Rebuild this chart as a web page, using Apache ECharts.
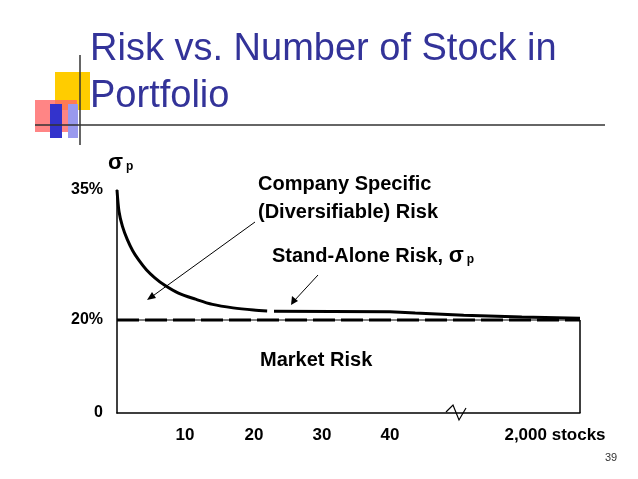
<!DOCTYPE html><html><head><meta charset="utf-8">
<script src="https://cdn.jsdelivr.net/npm/echarts@6/dist/echarts.min.js"></script>
<style>html,body{margin:0;background:#fff}#c{width:638px;height:479px}</style></head><body><div id="c"></div>
<script>
// data
const stocksA = [0, 0.3, 0.8, 1.5, 2.3, 3.2, 4.3, 5.5, 7, 9, 11.5, 14, 17, 20, 22];
const riskA   = [35, 32.5, 30.8, 29.3, 28.0, 26.9, 25.8, 24.9, 24.0, 23.1, 22.4, 21.8, 21.4, 21.15, 21.05];
const stocksB = [23, 40, 300, 800, 1400, 2000];
const riskB   = [21.0, 20.95, 20.8, 20.55, 20.35, 20.2];
const marketRisk = 20;
const xTicks = [[10,'10'],[20,'20'],[30,'30'],[40,'40']];
const yTicks = [[0,'0'],[20,'20%'],[35,'35%']];

// schematic (broken) scales
const fx = s => s <= 40 ? s * 273 / 40 : 273 + (s - 40) / 1960 * 190;
const fy = v => v <= 20 ? v * 93 / 20 : 93 + (v - 20) * 130 / 15;
const xLab = {}; xTicks.forEach(([s,l]) => xLab[Math.round(fx(s))] = l); xLab[438] = '2,000 stocks';
const yLab = {}; yTicks.forEach(([v,l]) => yLab[Math.round(fy(v))] = l);

const font = 'Liberation Sans, Arial, sans-serif';
const chart = echarts.init(document.getElementById('c'));
chart.setOption({
  animation:false,
  grid:{left:117, top:190, right:58, bottom:66},
  xAxis:{type:'value', min:0, max:463, interval:1,
    axisLine:{lineStyle:{color:'#000', width:1.5}}, axisTick:{show:false}, splitLine:{show:false},
    axisLabel:{hideOverlap:false, color:'#000', fontFamily:font, fontWeight:'bold', fontSize:17, margin:14,
      formatter:v=>xLab[v]||''}},
  yAxis:{type:'value', min:0, max:223, interval:1,
    axisLine:{show:true, lineStyle:{color:'#000', width:1.5}}, axisTick:{show:false}, splitLine:{show:false},
    axisLabel:{hideOverlap:false, color:'#000', fontFamily:font, fontWeight:'bold', fontSize:16, margin:14,
      formatter:v=>yLab[v]||''}},
  series:[
    {type:'line', data:stocksA.map((s,i)=>[fx(s), fy(riskA[i])]), smooth:0.3, symbol:'none', lineStyle:{color:'#000', width:3}},
    {type:'line', data:stocksB.map((s,i)=>[fx(s), fy(riskB[i])]), smooth:false, symbol:'none', lineStyle:{color:'#000', width:3}},
    {type:'line', data:[[0,fy(marketRisk)],[463,fy(marketRisk)]], symbol:'none', lineStyle:{color:'#000', width:1}},
    {type:'line', data:[[0,fy(marketRisk)],[463,fy(marketRisk)]], symbol:'none', lineStyle:{color:'#000', width:3, type:[22,6]}},
    {type:'line', data:[[463,0],[463,fy(marketRisk)]], symbol:'none', lineStyle:{color:'#000', width:1.5}}
  ],
  graphic:[
    {type:'rect', shape:{x:55,y:72,width:35,height:38}, style:{fill:'#ffcc00'}},
    {type:'rect', shape:{x:35,y:100,width:42,height:32}, style:{fill:'#ff6666', opacity:0.8}},
    {type:'rect', shape:{x:50,y:104,width:12,height:34}, style:{fill:'#3333cc'}},
    {type:'rect', shape:{x:68,y:104,width:10,height:34}, style:{fill:'#9999ee'}},
    {type:'line', shape:{x1:80,y1:55,x2:80,y2:145}, style:{stroke:'#333', lineWidth:1.5}},
    {type:'line', shape:{x1:35,y1:125,x2:605,y2:125}, style:{stroke:'#333', lineWidth:1.5}},
    {type:'text', left:90, top:26, style:{text:'Risk vs. Number of Stock in\nPortfolio', fill:'#333399', font:'38px '+font, lineHeight:47}},
    {type:'text', left:108, top:152, style:{text:'{a|σ}{b|p}', rich:{a:{font:'bold 22px '+font, fill:'#000'}, b:{font:'bold 12px '+font, fill:'#000', padding:[8,0,0,3]}}}},
    {type:'text', left:258, top:170, style:{text:'Company Specific\n(Diversifiable) Risk', fill:'#000', font:'bold 20px '+font, lineHeight:28}},
    {type:'text', left:272, top:245, style:{text:'{a|Stand-Alone Risk, }{s|σ}{b|p}', rich:{a:{font:'bold 20px '+font, fill:'#000'}, s:{font:'bold 22px '+font, fill:'#000'}, b:{font:'bold 12px '+font, fill:'#000', padding:[8,0,0,3]}}}},
    {type:'text', left:260, top:350, style:{text:'Market Risk', fill:'#000', font:'bold 20px '+font}},
    {type:'text', left:605, top:452, style:{text:'39', fill:'#333', font:'11px '+font}},
    {type:'line', shape:{x1:255,y1:222,x2:150,y2:298}, style:{stroke:'#000', lineWidth:1}},
    {type:'polygon', shape:{points:[[147,300],[152,292],[156,298]]}, style:{fill:'#000'}},
    {type:'line', shape:{x1:318,y1:275,x2:294,y2:301}, style:{stroke:'#000', lineWidth:1}},
    {type:'polygon', shape:{points:[[291,305],[292,296],[298,301]]}, style:{fill:'#000'}},
    {type:'rect', shape:{x:447,y:405,width:20,height:14}, style:{fill:'#fff'}},
    {type:'polyline', shape:{points:[[446,412],[453,405],[459,420],[466,408]]}, style:{stroke:'#000', lineWidth:1.2, fill:null}}
  ]
});
</script></body></html>
